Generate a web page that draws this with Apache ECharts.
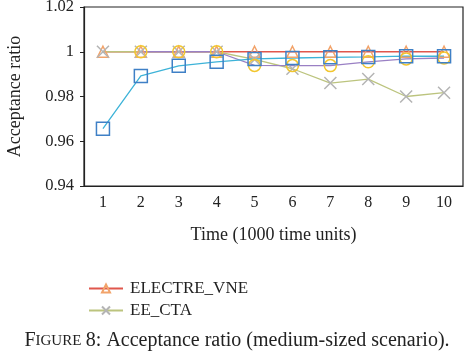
<!DOCTYPE html>
<html><head><meta charset="utf-8">
<script src="https://cdn.jsdelivr.net/npm/echarts@6/dist/echarts.min.js"></script>
<style>html,body{margin:0;padding:0;background:#fff}#c{width:474px;height:364px}</style>
</head><body><div id="c"></div>
<script>
const categories = ['1','2','3','4','5','6','7','8','9','10'];
const electreVne = [1, 1, 1, 1, 1, 1, 1, 1, 1, 1];
const eeCta = [1, 1, 1, 1, 0.9966, 0.9924, 0.986, 0.9878, 0.980, 0.9817];
const circleSeries = [null, 1, 1, 1, 0.9939, 0.9938, 0.9938, 0.9955, 0.9968, 0.9972];
const squareSeries = [0.9656, 0.9892, 0.9937, 0.9955, 0.9968, 0.9972, 0.9975, 0.9977, 0.998, 0.998];
const yTicks = [0.94, 0.96, 0.98, 1, 1.02];

const serif = '"Liberation Serif", "DejaVu Serif", serif';
const chart = echarts.init(document.getElementById('c'));
const hollow = c => ({ color: 'rgba(255,255,255,0)', borderColor: c, borderWidth: 1.5 });
chart.setOption({
  animation: false,
  backgroundColor: '#fff',
  textStyle: { fontFamily: serif },
  grid: { left: 84, right: 11, top: 7, bottom: 178, show: true, borderColor: '#222', borderWidth: 1.2,
    containLabel: false, outerBoundsMode: 'none' },
  title: {
    left: 'center', top: 326,
    text: '{b|F}{s|IGURE} {n|8: Acceptance ratio (medium-sized scenario).}',
    textStyle: { fontWeight: 'normal', rich: {
      b: { fontFamily: serif, fontSize: 20, color: '#222', fontWeight: 'normal' },
      s: { fontFamily: serif, fontSize: 15, color: '#222', fontWeight: 'normal' },
      n: { fontFamily: serif, fontSize: 20, color: '#222', fontWeight: 'normal' }
    } }
  },
  legend: {
    orient: 'vertical', left: 83, top: 275, itemGap: 5, itemWidth: 34, itemHeight: 10,
    data: ['ELECTRE_VNE', 'EE_CTA'],
    textStyle: { fontFamily: serif, fontSize: 17, color: '#222', padding: [0, 0, 0, 2] }
  },
  xAxis: {
    type: 'category', data: categories, boundaryGap: true,
    name: 'Time (1000 time units)', nameLocation: 'middle', nameGap: 40,
    nameTextStyle: { fontFamily: serif, fontSize: 18, color: '#222' },
    axisLine: { lineStyle: { color: '#222', width: 1.2 } },
    axisTick: { alignWithLabel: true, length: 4, lineStyle: { color: '#222' } },
    axisLabel: { fontFamily: serif, fontSize: 16, color: '#222', margin: 9 },
    splitLine: { show: false }
  },
  yAxis: {
    type: 'value', min: 0.94, max: 1.02, interval: 0.02,
    name: 'Acceptance ratio', nameLocation: 'middle', nameGap: 60, nameRotate: 90,
    nameTextStyle: { fontFamily: serif, fontSize: 18, color: '#222' },
    axisLine: { show: true, lineStyle: { color: '#222', width: 1.2 } },
    axisTick: { show: true, length: 4, lineStyle: { color: '#222' } },
    axisLabel: { fontFamily: serif, fontSize: 16.5, color: '#222', margin: 10,
      formatter: v => { const t = yTicks.find(x => Math.abs(x - v) < 1e-9); return String(+(t !== undefined ? t : v).toFixed(2)); } },
    splitLine: { show: false }
  },
  series: [
    { name: 'ELECTRE_VNE', type: 'line', data: electreVne, symbol: 'triangle', symbolSize: 11,
      lineStyle: { color: '#e0574c', width: 1.3 }, itemStyle: hollow('#f2a36a'), color: '#e0574c' },
    { name: 'EE_CTA', type: 'line', data: eeCta, symbol: 'path://M0,0L10,10M10,0L0,10', symbolSize: 12,
      lineStyle: { color: '#bcc47e', width: 1.3 }, itemStyle: { color: 'none', borderColor: '#b4b4b4', borderWidth: 1.5 }, color: '#bcc47e' },
    { name: 'S3', type: 'line', data: circleSeries, symbol: 'circle', symbolSize: 12, connectNulls: false,
      lineStyle: { color: '#9a80c4', width: 1.3 }, itemStyle: hollow('#f2c62e'), color: '#9a80c4' },
    { name: 'S4', type: 'line', data: squareSeries, symbol: 'rect', symbolSize: 13,
      lineStyle: { color: '#3db3d8', width: 1.3 }, itemStyle: hollow('#3f80c6'), color: '#3db3d8' }
  ]
});
</script></body></html>
